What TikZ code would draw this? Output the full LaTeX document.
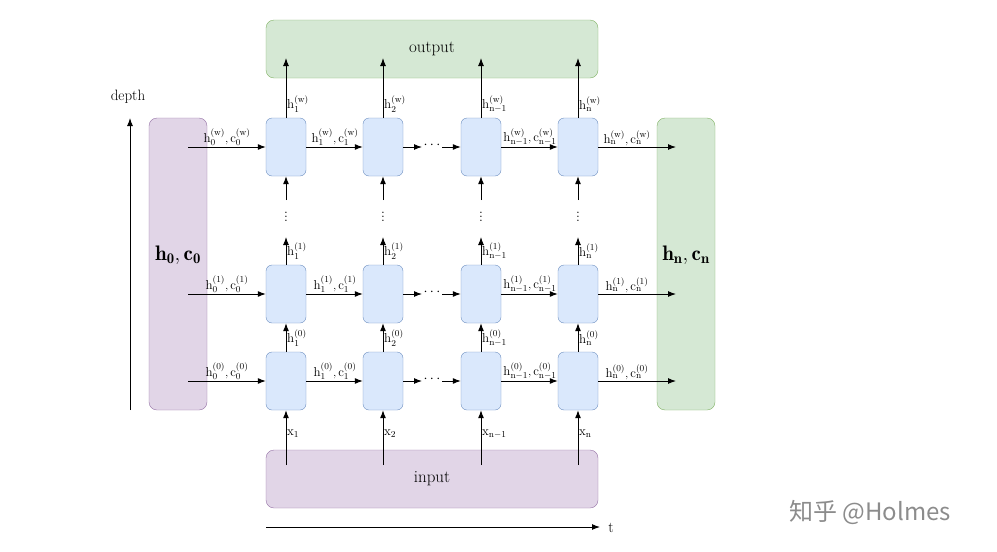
\documentclass[tikz,border=0pt]{standalone}
\usepackage{fontspec}
\newfontfamily\cjk{Noto Sans CJK SC}
\usetikzlibrary{arrows.meta}
\definecolor{pf}{HTML}{E1D5E7}\definecolor{ps}{HTML}{9673A6}
\definecolor{gf}{HTML}{D5E8D4}\definecolor{gs}{HTML}{82B366}
\definecolor{bf}{HTML}{DAE8FC}\definecolor{bs}{HTML}{6C8EBF}
\begin{document}
\begin{tikzpicture}[x=1pt,y=-1pt,
 cell/.style={draw=bs,fill=bf,rounded corners=6pt,minimum width=40pt,minimum height=58pt,inner sep=0},
 pbox/.style={draw=ps,fill=pf,rounded corners=8pt,inner sep=0},
 gbox/.style={draw=gs,fill=gf,rounded corners=8pt,inner sep=0},
 ar/.style={-{Latex[length=8pt,width=6pt]},line width=1pt},
 lb/.style={font=\fontsize{13}{14}\selectfont,inner sep=1pt}]
\useasboundingbox (0,0) rectangle (997,552);
\node[pbox,minimum width=58pt,minimum height=292pt] (L) at (178,264) {};
\node[font=\fontsize{21}{22}\selectfont] at (178,255) {$\mathbf{h_0,c_0}$};
\node[gbox,minimum width=58pt,minimum height=292pt] (R) at (686,264) {};
\node[font=\fontsize{21}{22}\selectfont] at (686,255) {$\mathbf{h_n,c_n}$};
\node[gbox,minimum width=332pt,minimum height=58pt,font=\fontsize{17}{18}\selectfont] (O) at (432,49) {output};
\node[pbox,minimum width=332pt,minimum height=58pt,font=\fontsize{17}{18}\selectfont] (I) at (432,479) {input};
\foreach \i/\x in {1/286,2/383,3/481,4/578}{
 \node[cell] (c\i w) at (\x,147) {};
 \node[cell] (c\i a) at (\x,294) {};
 \node[cell] (c\i b) at (\x,381) {};
 \coordinate (ot\i) at (\x,58);
 \coordinate (vs\i) at (\x,200);
 \coordinate (vu\i) at (\x,237);
 \coordinate (ib\i) at (\x,465);
 \node[font=\fontsize{14}{14}\selectfont,inner sep=0] at (\x,214) {$\vdots$};
 \draw[ar] (c\i w.north) -- (ot\i);
 \draw[ar] (vs\i) -- (c\i w.south);
 \draw[ar] (c\i a.north) -- (vu\i);
 \draw[ar] (c\i b.north) -- (c\i a.south);
 \draw[ar] (ib\i) -- (c\i b.south);
}
\foreach \r/\y in {w/147,a/294,b/381}{
 \coordinate (ls\r) at (188,\y); \coordinate (re\r) at (676,\y);
 \coordinate (d1\r) at (422,\y); \coordinate (d2\r) at (442,\y);
 \draw[ar] (ls\r) -- (c1\r.west);
 \draw[ar] (c1\r.east) -- (c2\r.west);
 \draw[ar] (c2\r.east) -- (d1\r);
 \node[font=\fontsize{14}{14}\selectfont] at (432,\y-2) {$\cdots$};
 \draw[ar] (d2\r) -- (c3\r.west);
 \draw[ar] (c3\r.east) -- (c4\r.west);
 \draw[ar] (c4\r.east) -- (re\r);
}
\foreach \r/\s/\y in {w/w/147,a/1/294,b/0/381}{
 \node[lb,above] at (227,\y) {$\mathrm{h_0^{(\s)},c_0^{(\s)}}$};
 \node[lb,above] at (335,\y) {$\mathrm{h_1^{(\s)},c_1^{(\s)}}$};
 \node[lb,above] at (530,\y) {$\mathrm{h_{n-1}^{(\s)},c_{n-1}^{(\s)}}$};
 \node[lb,above] at (627,\y) {$\mathrm{h_n^{(\s)},c_n^{(\s)}}$};
}
\foreach \x/\k in {286/1,383/2,481/{n-1},578/n}{
 \node[lb,right] at (\x,104) {$\mathrm{h_{\k}^{(w)}}$};
 \node[lb,right] at (\x,251) {$\mathrm{h_{\k}^{(1)}}$};
 \node[lb,right] at (\x,338) {$\mathrm{h_{\k}^{(0)}}$};
 \node[lb,right] at (\x,434) {$\mathrm{x_{\k}}$};
}
\coordinate (db) at (130,410); \coordinate (dt) at (130,118);
\draw[ar] (db) -- (dt);
\node[font=\fontsize{15}{16}\selectfont] (dl) at (128,97) {depth};
\coordinate (ts) at (266,527); \coordinate (te) at (600,527);
\draw[ar] (ts) -- (te);
\node[font=\fontsize{15}{16}\selectfont] (tl) at (611,528) {t};
\node[text=black!45,font=\cjk\fontsize{24}{26}\selectfont] (wm) at (870,512) {知乎 @Holmes};
\end{tikzpicture}
\end{document}
